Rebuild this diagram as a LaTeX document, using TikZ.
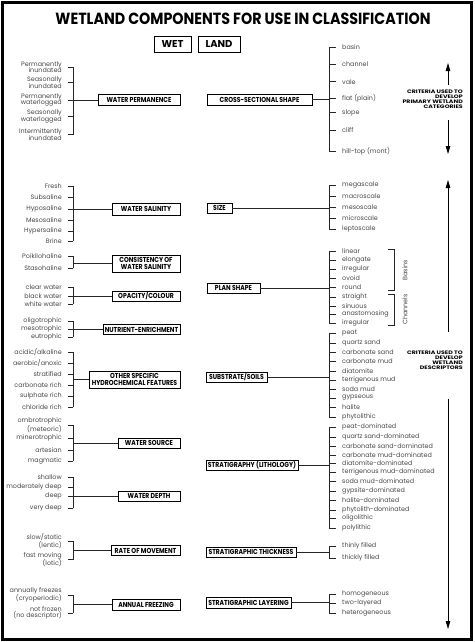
\documentclass[tikz,border=0pt]{standalone}
\usepackage{fontspec}
\usepackage{graphicx}
\setmainfont{Poppins}
\newfontfamily\bxfont[FakeStretch=0.85]{Poppins}
\newfontfamily\critfont[FakeStretch=1.25]{Poppins}
\usetikzlibrary{arrows.meta,backgrounds}
\newcommand\lgrp[4]{%
  \foreach \yy/\tx [count=\cnt] in {#2} {
    \node[litm] (#1\cnt) at (62,\yy) {\tx};
    \draw[ln] ([xshift=6pt]#1\cnt.east) -- ([xshift=11pt]#1\cnt.east);
  }
  \draw[ln] ([xshift=11pt]#11.east) -- ([xshift=11pt]#1#4.east);
  \draw[ln] (#3.west) -- (#3.west -| brL);
}
\newcommand\rgrp[4]{%
  \foreach \yy/\tx [count=\cnt] in {#2} {
    \node[ritm] (#1\cnt) at (342,\yy) {\tx};
    \draw[ln] ([xshift=-13pt]#1\cnt.west) -- ([xshift=-6pt]#1\cnt.west);
  }
  \draw[ln] ([xshift=-13pt]#11.west) -- ([xshift=-13pt]#1#4.west);
  \draw[ln] (#3.east) -- (#3.east -| brR);
}
\begin{document}
\begin{tikzpicture}[x=1pt,y=-1pt,
  itm/.style={inner sep=0pt, text=black!72, font=\fontsize{6.4}{6.6}\selectfont},
  litm/.style={itm, anchor=east, align=right},
  ritm/.style={itm, anchor=west, align=left},
  bx/.style={draw=black, line width=0.9pt, fill=white, inner sep=0pt, align=center,
    font=\bxfont\bfseries\fontsize{7.2}{7.4}\selectfont},
  hb/.style={draw=black, line width=0.9pt, fill=white, inner sep=0pt,
    font=\bfseries\fontsize{10}{10}\selectfont},
  ln/.style={line width=0.75pt, black!85},
  crit/.style={inner sep=0pt, align=right, font=\critfont\bfseries\fontsize{5}{4.9}\selectfont},
  arr/.style={line width=0.8pt, -{Triangle[length=8pt,width=4.5pt]}}]
\useasboundingbox (0,0) rectangle (474,642);
\fill[white] (0,0) rectangle (474,642);
\draw[line width=2.5pt] (2.5,2.5) rectangle (471.5,639.5);

\node (title) at (243,19) {\resizebox{375pt}{11.5pt}{\bfseries WETLAND COMPONENTS FOR USE IN CLASSIFICATION}};

\node[hb, minimum width=37pt, minimum height=16pt] (wet) at (172.5,44) {WET};
\node[hb, minimum width=42pt, minimum height=16pt] (land) at (219,44) {LAND};

\coordinate (wx) at (177,0);
\coordinate (lx) at (212,0);
\coordinate (brL) at (73,0);
\coordinate (brR) at (329,0);

% WET boxes
\node[bx, minimum width=82pt, minimum height=11pt] (wpb) at (139,100) {WATER PERMANENCE};
\node[bx, minimum width=68pt, minimum height=12pt] (wsb) at (146,209) {WATER SALINITY};
\node[bx, minimum width=68pt, minimum height=17pt] (csb) at (146,263.5) {CONSISTENCY OF\\[-0.5pt]WATER SALINITY};
\node[bx, minimum width=68pt, minimum height=10pt] (ocb) at (146,296) {OPACITY/COLOUR};
\node[bx, minimum width=77pt, minimum height=10pt] (neb) at (141.5,329.5) {NUTRIENT-ENRICHMENT};
\node[bx, minimum width=91pt, minimum height=17pt] (osb) at (134.5,379.5) {OTHER SPECIFIC\\[-0.5pt]HYDROCHEMICAL FEATURES};
\node[bx, minimum width=62pt, minimum height=10pt] (srb) at (149,443) {WATER SOURCE};
\node[bx, minimum width=62pt, minimum height=10pt] (wdb) at (149,496) {WATER DEPTH};
\node[bx, minimum width=69pt, minimum height=10pt] (rmb) at (145.5,550.5) {RATE OF MOVEMENT};
\node[bx, minimum width=68pt, minimum height=11pt] (afb) at (146,604.5) {ANNUAL FREEZING};

% LAND boxes
\node[bx, minimum width=105pt, minimum height=11pt] (xsb) at (259.5,99.5) {CROSS-SECTIONAL SHAPE};
\node[bx, minimum width=25pt, minimum height=10pt] (szb) at (219.5,208) {SIZE};
\node[bx, minimum width=53pt, minimum height=10pt] (psb) at (233.5,288) {PLAN SHAPE};
\node[bx, minimum width=61pt, minimum height=10pt] (sbb) at (236.5,377) {SUBSTRATE/SOILS};
\node[bx, minimum width=92pt, minimum height=10pt] (stb) at (252,465) {STRATIGRAPHY (LITHOLOGY)};
\node[bx, minimum width=90pt, minimum height=10pt] (thb) at (251,552) {STRATIGRAPHIC THICKNESS};
\node[bx, minimum width=85pt, minimum height=11pt] (lyb) at (248.5,602.5) {STRATIGRAPHIC LAYERING};

% left groups
\lgrp{wp}{67/{Permanently\\inundated}, 82.5/{Seasonally\\inundated}, 100/{Permanently\\waterlogged}, 116.5/{Seasonally\\waterlogged}, 134.5/{Intermittently\\inundated}}{wpb}{5}
\lgrp{ws}{186/{Fresh}, 197/{Subsaline}, 209/{Hyposaline}, 220/{Mesosaline}, 231/{Hypersaline}, 241/{Brine}}{wsb}{6}
\lgrp{cs}{256/{Poikilohaline}, 268/{Stasohaline}}{csb}{2}
\lgrp{oc}{287/{clear water}, 296/{black water}, 304/{white water}}{ocb}{3}
\lgrp{ne}{321/{oligotrophic}, 329/{mesotrophic}, 337/{eutrophic}}{neb}{3}
\lgrp{os}{352/{acidic/alkaline}, 363/{aerobic/anoxic}, 374/{stratified}, 385/{carbonate rich}, 396/{sulphate rich}, 407/{chloride rich}}{osb}{6}
\lgrp{sr}{425/{ombrotrophic\\(meteoric)}, 438/{minerotrophic}, 450/{artesian}, 461/{magmatic}}{srb}{4}
\lgrp{wd}{477/{shallow}, 487/{moderately deep}, 496/{deep}, 508/{very deep}}{wdb}{4}
\lgrp{rm}{541/{slow/static\\(lentic)}, 559.5/{fast moving\\(lotic)}}{rmb}{2}
\lgrp{af}{595/{annually freezes\\(cryoperiodic)}, 613/{not frozen\\(no descriptor)}}{afb}{2}

% right groups
\rgrp{xs}{47.3/{basin}, 64.3/{channel}, 81.7/{vale}, 98.3/{flat (plain)}, 112.7/{slope}, 130/{cliff}, 151.7/{hill-top (mont)}}{xsb}{7}
\rgrp{sz}{185/{megascale}, 196/{macroscale}, 207/{mesoscale}, 218/{microscale}, 229/{leptoscale}}{szb}{5}
\rgrp{ps}{251/{linear}, 260/{elongate}, 269/{irregular}, 278/{ovoid}, 287/{round}, 297/{straight}, 306/{sinuous}, 314/{anastomosing}, 323/{irregular}}{psb}{9}
\rgrp{sb}{333/{peat}, 343/{quartz sand}, 352/{carbonate sand}, 361/{carbonate mud}, 371/{diatomite}, 380/{terrigenous mud}, 389/{soda mud}, 398/{gypseous}, 407/{halite}, 417/{phytolithic}}{sbb}{10}
\rgrp{st}{427/{peat-dominated}, 437/{quartz sand-dominated}, 446/{carbonate sand-dominated}, 455/{carbonate mud-dominated}, 463/{diatomite-dominated}, 472/{terrigenous mud-dominated}, 481/{soda mud-dominated}, 491/{gypsite-dominated}, 500/{halite-dominated}, 510/{phytolith-dominated}, 518/{oligolithic}, 528/{polylithic}}{stb}{12}
\rgrp{th}{546/{thinly filled}, 558/{thickly filled}}{thb}{2}
\rgrp{ly}{594/{homogeneous}, 603/{two-layered}, 613/{heterogeneous}}{lyb}{3}

% Basins / Channels brackets
\draw[ln] (388,249) -- (394,249) -- (394,290) -- (388,290);
\draw[ln] (388,294) -- (394,294) -- (394,325) -- (388,325);
\node[itm, rotate=90] (basins) at (405,270) {Basins};
\node[itm, rotate=90] (channels) at (405,309.5) {Channels};

% criteria
\node[crit, anchor=east] (c1) at (463,99.5) {CRITERIA USED TO\\DEVELOP\\PRIMARY WETLAND\\CATEGORIES};
\coordinate (a1s) at (448,85); \coordinate (a1t) at (448,63);
\coordinate (a1u) at (448,120); \coordinate (a1b) at (448,154);
\draw[arr] (a1s) -- (a1t);
\draw[arr] (a1u) -- (a1b);
\node[crit, anchor=east] (c2) at (463,360) {CRITERIA USED TO\\DEVELOP\\WETLAND\\DESCRIPTORS};
\coordinate (a2s) at (448,332); \coordinate (a2t) at (448,180);
\coordinate (a2u) at (448,399); \coordinate (a2b) at (448,629);
\draw[arr] (a2s) -- (a2t);
\draw[arr] (a2u) -- (a2b);

% spines
\begin{scope}[on background layer]
\draw[line width=0.9pt, black!85] (wet.south -| wx) -- (afb.north -| wx);
\draw[line width=0.9pt, black!60] (land.south -| lx) -- (lyb.north -| lx);
\end{scope}
\end{tikzpicture}
\end{document}
